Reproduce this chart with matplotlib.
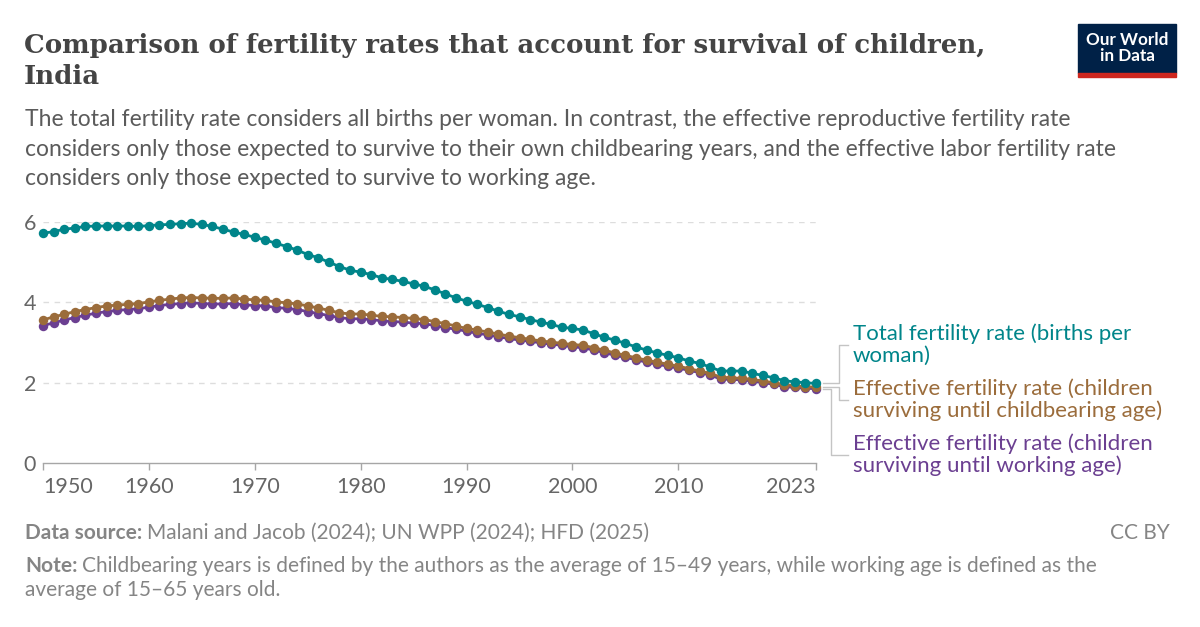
import numpy as np
import matplotlib
matplotlib.use('Agg')
import matplotlib.pyplot as plt

years = list(range(1950, 2024))

# total fertility rate (births per woman)
tfr = [5.72, 5.76, 5.82, 5.85, 5.89, 5.90, 5.90, 5.90, 5.90, 5.89,
       5.91, 5.93, 5.94, 5.96, 5.97, 5.94, 5.89, 5.82, 5.75, 5.69,
       5.62, 5.55, 5.47, 5.39, 5.30, 5.19, 5.11, 5.00, 4.89, 4.80,
       4.75, 4.69, 4.61, 4.57, 4.52, 4.46, 4.40, 4.31, 4.21, 4.11,
       4.03, 3.95, 3.87, 3.78, 3.70, 3.64, 3.57, 3.51, 3.45, 3.38,
       3.35, 3.31, 3.22, 3.13, 3.06, 2.98, 2.89, 2.81, 2.74, 2.68,
       2.62, 2.54, 2.48, 2.39, 2.29, 2.29, 2.29, 2.23, 2.18, 2.12,
       2.05, 2.02, 2.00, 1.98]

# effective fertility rate, surviving until childbearing age
efr_child = [3.56, 3.64, 3.70, 3.77, 3.82, 3.87, 3.91, 3.93, 3.95, 3.97,
             4.01, 4.05, 4.08, 4.11, 4.12, 4.11, 4.10, 4.10, 4.11, 4.08,
             4.06, 4.05, 4.01, 3.99, 3.96, 3.91, 3.86, 3.80, 3.74, 3.71,
             3.71, 3.68, 3.65, 3.64, 3.62, 3.60, 3.57, 3.52, 3.47, 3.41,
             3.35, 3.31, 3.26, 3.21, 3.16, 3.12, 3.08, 3.04, 3.01, 2.98,
             2.95, 2.93, 2.87, 2.81, 2.74, 2.68, 2.62, 2.56, 2.51, 2.46,
             2.41, 2.35, 2.29, 2.23, 2.14, 2.12, 2.11, 2.08, 2.04, 2.00,
             1.95, 1.92, 1.90, 1.89]

# effective fertility rate, surviving until working age
efr_work = [3.42, 3.49, 3.56, 3.62, 3.68, 3.73, 3.77, 3.80, 3.82, 3.84,
            3.88, 3.92, 3.95, 3.97, 3.99, 3.97, 3.96, 3.96, 3.97, 3.94,
            3.92, 3.91, 3.87, 3.85, 3.82, 3.77, 3.72, 3.67, 3.62, 3.59,
            3.59, 3.57, 3.54, 3.52, 3.51, 3.48, 3.47, 3.42, 3.37, 3.33,
            3.28, 3.23, 3.19, 3.14, 3.10, 3.06, 3.03, 2.99, 2.96, 2.93,
            2.89, 2.87, 2.81, 2.75, 2.68, 2.63, 2.57, 2.51, 2.46, 2.41,
            2.36, 2.31, 2.25, 2.19, 2.09, 2.08, 2.07, 2.04, 2.00, 1.96,
            1.90, 1.88, 1.86, 1.85]

x_ticks = [1950, 1960, 1970, 1980, 1990, 2000, 2010, 2023]
y_ticks = [0, 2, 4, 6]

labels = ['Total fertility rate (births per\nwoman)',
          'Effective fertility rate (children\nsurviving until childbearing age)',
          'Effective fertility rate (children\nsurviving until working age)']
colors = ['#00858a', '#9b6c3b', '#6b3f91']

subtitle_lines = [
    'The total fertility rate considers all births per woman. In contrast, the effective reproductive fertility rate',
    'considers only those expected to survive to their own childbearing years, and the effective labor fertility rate',
    'considers only those expected to survive to working age.',
]

W, H = 1200, 627
fig = plt.figure(figsize=(12, 6.27), dpi=100)

def fx(px):
    return px / W

def fy(py):
    return 1 - py / H

ax_l, ax_r, ax_t, ax_b = 43, 816, 222, 463
ax = fig.add_axes([fx(ax_l), fy(ax_b), (ax_r - ax_l) / W, (ax_b - ax_t) / H])

for vals, c in [(efr_work, colors[2]), (efr_child, colors[1]), (tfr, colors[0])]:
    ax.plot(years, vals, color=c, lw=2, marker='o', ms=6.8,
            markeredgewidth=0, clip_on=False, zorder=3)

ax.set_xlim(1950, 2023)
ax.set_ylim(0, 6)
ax.set_yticks(y_ticks)
ax.set_xticks(x_ticks)
for yv in y_ticks[1:]:
    ax.axhline(yv, color='#dddddd', lw=1, ls=(0, (4, 4)), zorder=1)
for s in ['top', 'right', 'left']:
    ax.spines[s].set_visible(False)
ax.spines['bottom'].set_color('#a6a6a6')
ax.spines['bottom'].set_linewidth(1)
ax.tick_params(axis='x', colors='#a6a6a6', length=5, width=1, pad=5,
               labelcolor='#666666', labelsize=15.5)
ax.tick_params(axis='y', length=0, pad=5, labelcolor='#666666', labelsize=15.5)
for t in ax.get_xticklabels() + ax.get_yticklabels():
    t.set_fontfamily('Lato')
xl = ax.get_xticklabels()
xl[0].set_horizontalalignment('left')
xl[-1].set_horizontalalignment('right')
ax.set_facecolor('none')

# Title and subtitle
fig.text(fx(24), fy(45), 'Comparison of fertility rates that account for survival of children,',
         fontsize=18.7, fontweight='bold', family='DejaVu Serif', color='#444444', va='center')
fig.text(fx(24), fy(77), 'India', fontsize=18.7, fontweight='bold',
         family='DejaVu Serif', color='#444444', va='center')
for i, line in enumerate(subtitle_lines):
    fig.text(fx(25), fy(120 + 29 * i), line, fontsize=16.5, family='Lato',
             color='#5b5b5b', va='center')

# Logo
fig.patches.append(plt.Rectangle((fx(1078), fy(73)), 98 / W, 49 / H,
                                 transform=fig.transFigure, color='#002147'))
fig.patches.append(plt.Rectangle((fx(1078), fy(77)), 98 / W, 4 / H,
                                 transform=fig.transFigure, color='#ce261e'))
fig.text(fx(1127), fy(48), 'Our World\nin Data', fontsize=12.3, family='Lato',
         fontweight='bold', color='white', ha='center', va='center', linespacing=1.0)

# Line labels with connectors
label_y = [345, 400, 455]
end_y = [tfr[-1], efr_child[-1], efr_work[-1]]
elbow_x = [839, 839, 831]
for lab, c, ly, ev, ex in zip(labels, colors, label_y, end_y, elbow_x):
    py = ax_b - ev / 6 * (ax_b - ax_t)
    fig.add_artist(plt.Line2D([fx(823), fx(ex), fx(ex), fx(848)],
                              [fy(py), fy(py), fy(ly), fy(ly)],
                              color='#c4c4c4', lw=1, transform=fig.transFigure))
    fig.text(fx(853), fy(ly), lab, fontsize=16, family='Lato', color=c,
             va='center', linespacing=1.1)

# Footer
renderer = fig.canvas.get_renderer()

def bold_lead(x, y, lead, rest):
    t = fig.text(fx(x), fy(y), lead, fontsize=15, family='Lato',
                 fontweight='bold', color='#858585', va='center')
    bb = t.get_window_extent(renderer)
    fig.text(bb.x1 / W + 5 / W, fy(y), rest, fontsize=15, family='Lato',
             color='#858585', va='center')

bold_lead(25, 533, 'Data source:', 'Malani and Jacob (2024); UN WPP (2024); HFD (2025)')
fig.text(fx(1170), fy(533), 'CC BY', fontsize=15, family='Lato',
         color='#858585', va='center', ha='right')
bold_lead(25, 566, 'Note:', 'Childbearing years is defined by the authors as the average of 15\u201349 years, while working age is defined as the')
fig.text(fx(25), fy(590), 'average of 15\u201365 years old.', fontsize=15, family='Lato',
         color='#858585', va='center')

fig.savefig('out.png', dpi=100, facecolor='white')
